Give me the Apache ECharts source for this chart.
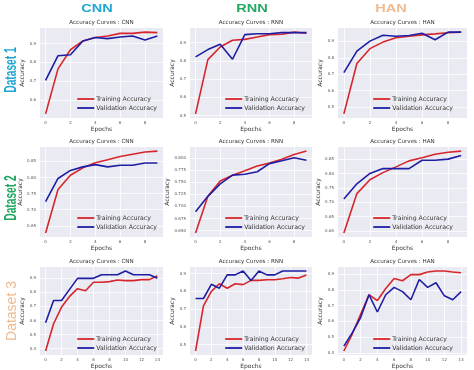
<!DOCTYPE html>
<html><head><meta charset="utf-8">
<script src="https://cdn.jsdelivr.net/npm/echarts@6/dist/echarts.min.js"></script>
<style>html,body{margin:0;padding:0;background:#fff}#c{width:474px;height:370px}</style>
</head><body><div id="c"></div>
<script>
// ---- data ----
const models = ['CNN', 'RNN', 'HAN'];
const datasets = ['Dataset 1', 'Dataset 2', 'Dataset 3'];
const seriesNames = ['Training Accuracy', 'Validation Accuracy'];
const epochsShort = [0, 1, 2, 3, 4, 5, 6, 7, 8, 9];
const epochsLong = [0, 1, 2, 3, 4, 5, 6, 7, 8, 9, 10, 11, 12, 13, 14];
const xTicksShort = [0, 2, 4, 6, 8];
const xTicksLong = [0, 2, 4, 6, 8, 10, 12, 14];

// Dataset 1
const trainD1Cnn = [0.525, 0.765, 0.867, 0.914, 0.932, 0.940, 0.954, 0.954, 0.961, 0.958];
const valD1Cnn   = [0.704, 0.835, 0.840, 0.914, 0.932, 0.926, 0.935, 0.940, 0.919, 0.940];
const trainD1Rnn = [0.509, 0.807, 0.876, 0.913, 0.918, 0.931, 0.944, 0.946, 0.958, 0.952];
const valD1Rnn   = [0.822, 0.862, 0.891, 0.809, 0.944, 0.949, 0.949, 0.955, 0.955, 0.955];
const trainD1Han = [0.458, 0.765, 0.856, 0.896, 0.922, 0.932, 0.940, 0.946, 0.953, 0.957];
const valD1Han   = [0.710, 0.841, 0.902, 0.938, 0.932, 0.936, 0.950, 0.910, 0.957, 0.957];
// Dataset 2
const trainD2Cnn = [0.628, 0.763, 0.807, 0.830, 0.846, 0.855, 0.865, 0.872, 0.879, 0.882];
const valD2Cnn   = [0.725, 0.797, 0.822, 0.833, 0.840, 0.833, 0.838, 0.838, 0.845, 0.845];
const trainD2Rnn = [0.645, 0.721, 0.753, 0.765, 0.774, 0.784, 0.790, 0.798, 0.808, 0.815];
const valD2Rnn   = [0.689, 0.721, 0.747, 0.765, 0.767, 0.772, 0.789, 0.795, 0.801, 0.796];
const trainD2Han = [0.593, 0.730, 0.778, 0.803, 0.823, 0.844, 0.855, 0.867, 0.874, 0.878];
const valD2Han   = [0.711, 0.764, 0.800, 0.817, 0.817, 0.817, 0.846, 0.846, 0.850, 0.863];
// Dataset 3
const trainD3Cnn = [0.384, 0.577, 0.695, 0.770, 0.825, 0.810, 0.870, 0.870, 0.875, 0.886, 0.882, 0.882, 0.889, 0.889, 0.916];
const valD3Cnn   = [0.584, 0.741, 0.741, 0.820, 0.898, 0.898, 0.898, 0.923, 0.923, 0.923, 0.950, 0.923, 0.923, 0.923, 0.898];
const trainD3Rnn = [0.464, 0.718, 0.800, 0.843, 0.818, 0.843, 0.838, 0.862, 0.862, 0.866, 0.866, 0.871, 0.878, 0.875, 0.893];
const valD3Rnn   = [0.760, 0.760, 0.840, 0.818, 0.893, 0.893, 0.915, 0.862, 0.915, 0.893, 0.893, 0.915, 0.915, 0.915, 0.915];
const trainD3Han = [0.412, 0.520, 0.645, 0.770, 0.733, 0.810, 0.873, 0.859, 0.898, 0.898, 0.915, 0.921, 0.921, 0.915, 0.910];
const valD3Han   = [0.443, 0.527, 0.625, 0.770, 0.660, 0.770, 0.817, 0.790, 0.738, 0.867, 0.817, 0.846, 0.763, 0.738, 0.790];

// y tick values per panel
const yTicksD1Cnn = [0.6, 0.7, 0.8, 0.9];
const yTicksD1Rnn = [0.5, 0.6, 0.7, 0.8, 0.9];
const yTicksD1Han = [0.5, 0.6, 0.7, 0.8, 0.9];
const yTicksD2Cnn = [0.65, 0.70, 0.75, 0.80, 0.85];
const yTicksD2Rnn = [0.650, 0.675, 0.700, 0.725, 0.750, 0.775, 0.800];
const yTicksD2Han = [0.60, 0.65, 0.70, 0.75, 0.80, 0.85];
const yTicksD3Cnn = [0.4, 0.5, 0.6, 0.7, 0.8, 0.9];
const yTicksD3Rnn = [0.5, 0.6, 0.7, 0.8, 0.9];
const yTicksD3Han = [0.4, 0.5, 0.6, 0.7, 0.8, 0.9];

const panels = [
  [trainD1Cnn, valD1Cnn, yTicksD1Cnn], [trainD1Rnn, valD1Rnn, yTicksD1Rnn], [trainD1Han, valD1Han, yTicksD1Han],
  [trainD2Cnn, valD2Cnn, yTicksD2Cnn], [trainD2Rnn, valD2Rnn, yTicksD2Rnn], [trainD2Han, valD2Han, yTicksD2Han],
  [trainD3Cnn, valD3Cnn, yTicksD3Cnn], [trainD3Rnn, valD3Rnn, yTicksD3Rnn], [trainD3Han, valD3Han, yTicksD3Han]
];

// ---- layout / style ----
const colLeft = [40, 190, 338];
const colWidth = [123, 122, 129];
const rowTop = [28, 147, 267];
const rowHeight = [90, 90, 91];
const yNameGap = [6, 11, 11];
const legendRightGap = [6, 7, 14];
const headColors = ['#1ea6d3', '#1ea862', '#f0ba8e'];
const lineColors = ['#d6262c', '#1e1ea4'];
const FONT = 'DejaVu Sans, sans-serif';
const HFONT = 'Liberation Sans, Arial, sans-serif';

const grids = [], xAxes = [], yAxes = [], series = [], legends = [], graphics = [];

panels.forEach((p, i) => {
  const r = Math.floor(i / 3), c = i % 3;
  const [train, val, yTicks] = p;
  const epochs = r === 2 ? epochsLong : epochsShort;
  const xTicks = r === 2 ? xTicksLong : xTicksShort;
  const all = train.concat(val);
  const lo = Math.min(...all), hi = Math.max(...all), span = hi - lo;
  const xSpan = epochs[epochs.length - 1] - epochs[0];
  const step = yTicks[1] - yTicks[0];
  const dec = step < 0.049 ? 3 : (step < 0.099 ? 2 : 1);
  const L = colLeft[c], W = colWidth[c], T = rowTop[r], H = rowHeight[r];

  grids.push({ left: L, top: T, width: W, height: H, show: true, backgroundColor: '#eaeaf2', borderWidth: 0 });
  xAxes.push({
    type: 'value', gridIndex: i,
    min: epochs[0] - 0.05 * xSpan, max: epochs[epochs.length - 1] + 0.05 * xSpan,
    name: 'Epochs', nameLocation: 'middle', nameGap: 8,
    nameTextStyle: { fontSize: 6, color: '#333', fontFamily: FONT },
    axisLine: { show: false },
    axisTick: { show: false, customValues: xTicks },
    axisLabel: { customValues: xTicks, fontSize: 4, color: '#555', margin: 3, fontFamily: FONT },
    splitLine: { show: true, lineStyle: { color: '#ffffff', width: 0.8 } }
  });
  yAxes.push({
    type: 'value', gridIndex: i,
    min: lo - 0.05 * span, max: hi + 0.05 * span,
    name: 'Accuracy', nameLocation: 'middle', nameGap: yNameGap[c],
    nameTextStyle: { fontSize: 6, color: '#333', fontFamily: FONT },
    axisLine: { show: false },
    axisTick: { show: false, customValues: yTicks },
    axisLabel: { customValues: yTicks, fontSize: 4, color: '#555', margin: 4, fontFamily: FONT,
      formatter: v => v.toFixed(dec) },
    splitLine: { show: true, lineStyle: { color: '#ffffff', width: 0.8 } }
  });
  [train, val].forEach((arr, k) => {
    series.push({
      type: 'line', name: seriesNames[k], xAxisIndex: i, yAxisIndex: i,
      data: epochs.map((e, j) => [e, arr[j]]),
      symbol: 'none', color: lineColors[k],
      lineStyle: { width: 1.6, color: lineColors[k] },
      animation: false
    });
  });
  legends.push({
    data: seriesNames, orient: 'vertical', selectedMode: false,
    right: 474 - (L + W) + legendRightGap[c], top: T + H - 23,
    icon: 'rect', itemWidth: 17, itemHeight: 1.8, itemGap: 1, padding: 0,
    textStyle: { fontSize: 6.2, lineHeight: 8, color: '#333', fontFamily: FONT, padding: [0, 0, 0, -3] }
  });
  graphics.push({
    type: 'text', x: L + W / 2, y: T - 5,
    style: { text: 'Accuracy Curves : ' + models[c], fontSize: 5.6, fontFamily: FONT, fill: '#333',
      align: 'center', verticalAlign: 'middle' }
  });
});

const headX = [97, 252, 391];
models.forEach((m, c) => {
  graphics.push({
    type: 'text', x: headX[c], y: 9, scaleY: 0.75,
    style: { text: m, fontSize: 14.5, fontWeight: 'bold', fontFamily: HFONT,
      fill: headColors[c], align: 'center', verticalAlign: 'middle' }
  });
});
const rowLabelY = [70, 198, 311];
const rowLabelWeight = ['bold', 'bold', 'normal'];
const rowLabelSize = [16, 16, 14];
const rowLabelScale = [0.64, 0.64, 1];
datasets.forEach((d, r) => {
  graphics.push({
    type: 'text', x: 12, y: rowLabelY[r], rotation: Math.PI / 2, scaleX: rowLabelScale[r],
    style: { text: d, fontSize: rowLabelSize[r], fontWeight: rowLabelWeight[r], fontFamily: HFONT,
      fill: headColors[r], align: 'center', verticalAlign: 'middle' }
  });
});

const chart = echarts.init(document.getElementById('c'), null, { renderer: 'canvas' });
chart.setOption({
  animation: false,
  backgroundColor: '#ffffff',
  grid: grids, xAxis: xAxes, yAxis: yAxes, series: series, legend: legends,
  graphic: graphics
});
</script>
</body></html>
